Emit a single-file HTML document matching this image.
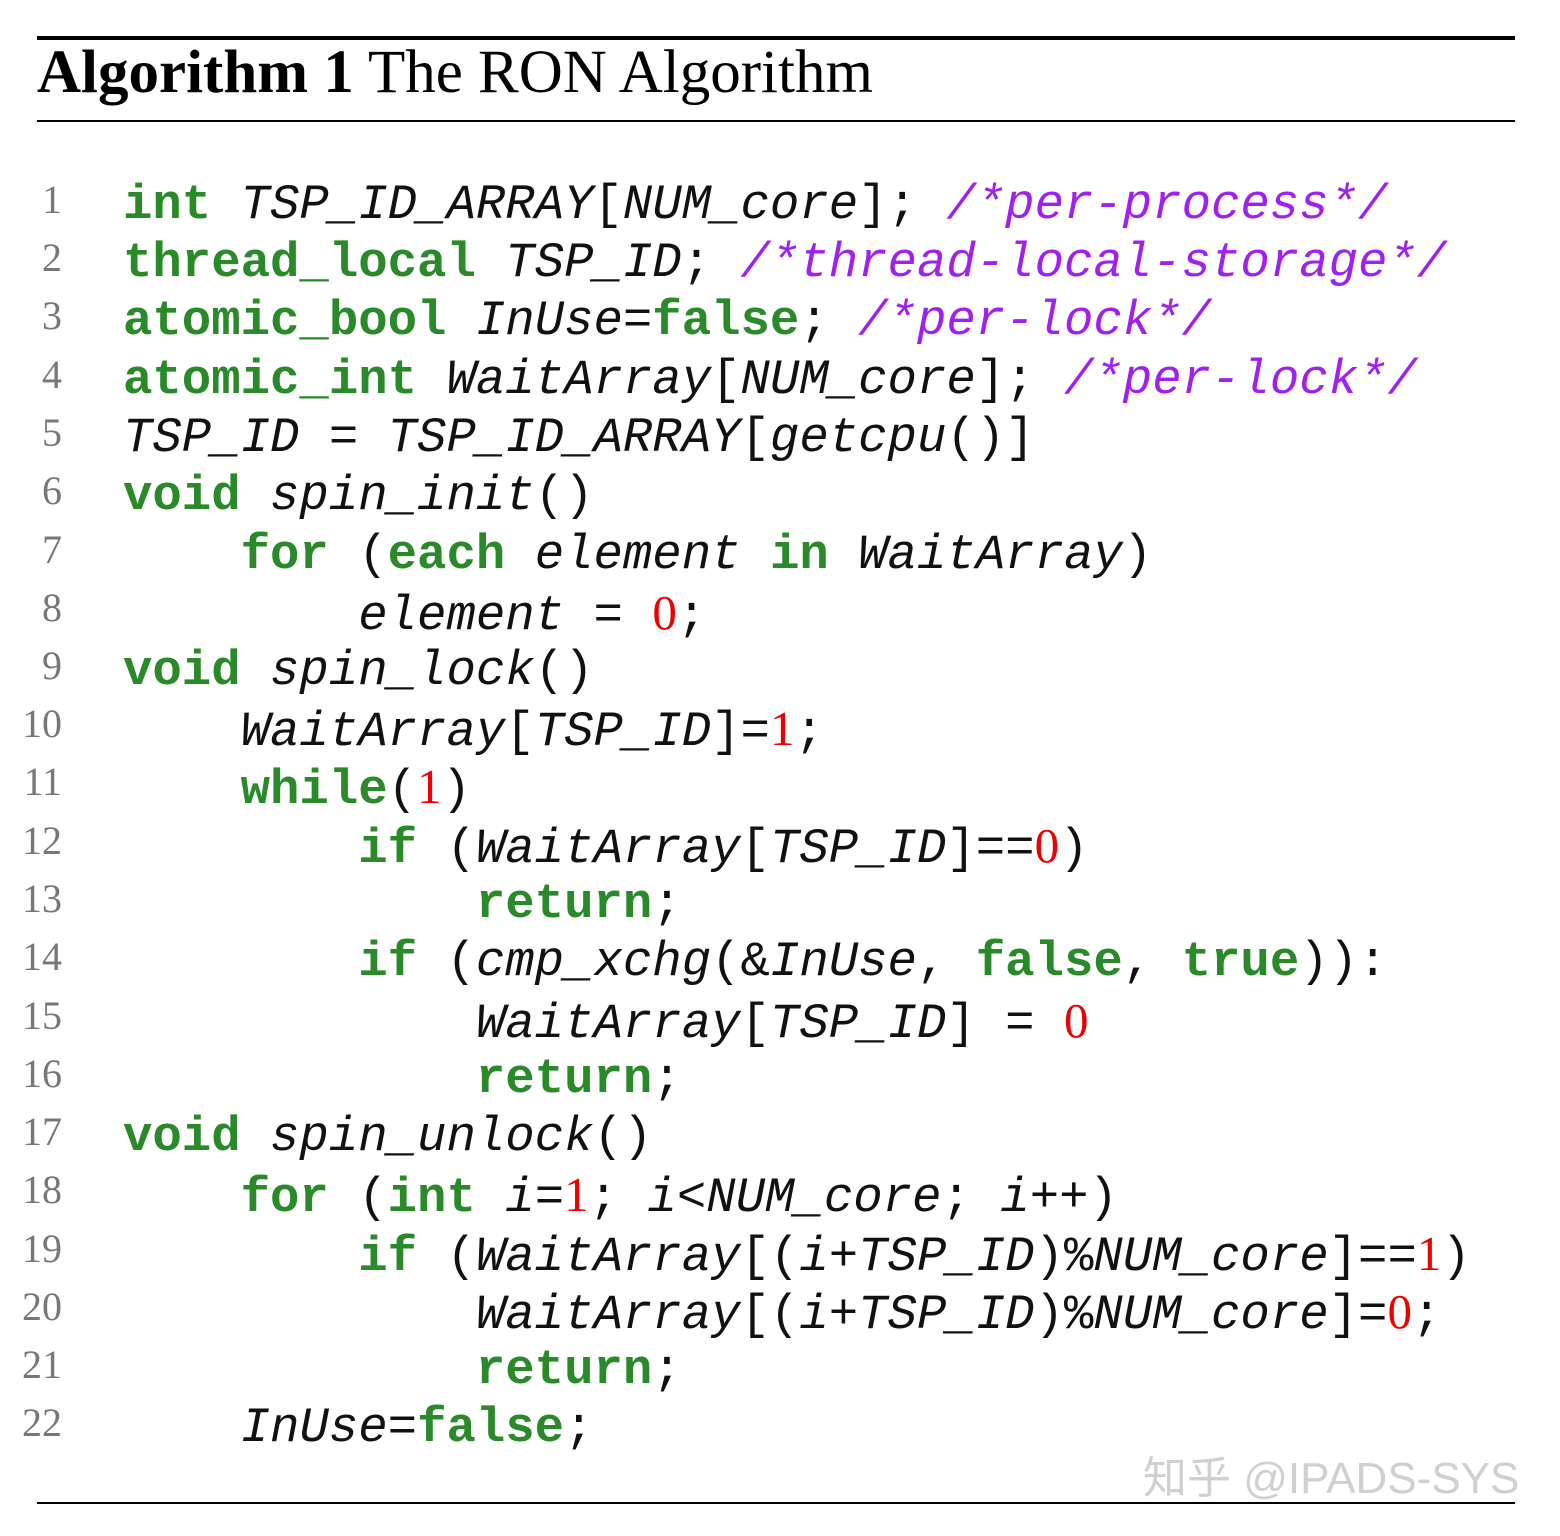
<!DOCTYPE html>
<html><head><meta charset="utf-8"><style>
body{margin:0;background:#fff;width:1560px;height:1536px;position:relative;overflow:hidden}
.r{position:absolute;left:37px;width:1478px;background:#000}
.t{position:absolute;left:37px;top:38px;font:61px "Liberation Serif",serif;color:#000;white-space:pre}
.n{position:absolute;left:0;width:62px;text-align:right;font:40px "Liberation Serif",serif;color:#777;height:58px;line-height:58px}
.c{position:absolute;left:123px;font:49px "Liberation Mono",monospace;white-space:pre;height:58px;line-height:58px;color:#111;margin-top:5px}
.k{color:#2a8a2a;font-weight:bold}
.i{font-style:italic}
.m{color:#a020f0;font-style:italic}
.d{color:#e00;font-family:"Liberation Serif",serif}
.w{position:absolute;left:1143px;top:1442px;font:44px "Liberation Sans","Noto Sans CJK SC",sans-serif;color:#d0d0d0;white-space:pre}
</style></head><body>
<div class="r" style="top:36px;height:4px"></div>
<div class="t"><b>Algorithm 1</b> The RON Algorithm</div>
<div class="r" style="top:120px;height:2px"></div>
<div class="r" style="top:1502px;height:2px"></div>

<div class="n" style="top:171px">1</div><div class="c" style="top:171px"><span class="k">int</span> <span class="i">TSP_ID_ARRAY</span>[<span class="i">NUM_core</span>]; <span class="m">/*per-process*/</span></div>
<div class="n" style="top:229px">2</div><div class="c" style="top:229px"><span class="k">thread_local</span> <span class="i">TSP_ID</span>; <span class="m">/*thread-local-storage*/</span></div>
<div class="n" style="top:287px">3</div><div class="c" style="top:287px"><span class="k">atomic_bool</span> <span class="i">InUse</span>=<span class="k">false</span>; <span class="m">/*per-lock*/</span></div>
<div class="n" style="top:346px">4</div><div class="c" style="top:346px"><span class="k">atomic_int</span> <span class="i">WaitArray</span>[<span class="i">NUM_core</span>]; <span class="m">/*per-lock*/</span></div>
<div class="n" style="top:404px">5</div><div class="c" style="top:404px"><span class="i">TSP_ID</span> = <span class="i">TSP_ID_ARRAY</span>[<span class="i">getcpu</span>()]</div>
<div class="n" style="top:462px">6</div><div class="c" style="top:462px"><span class="k">void</span> <span class="i">spin_init</span>()</div>
<div class="n" style="top:521px">7</div><div class="c" style="top:521px">    <span class="k">for</span> (<span class="k">each</span> <span class="i">element</span> <span class="k">in</span> <span class="i">WaitArray</span>)</div>
<div class="n" style="top:579px">8</div><div class="c" style="top:579px">        <span class="i">element</span> = <span class="d">0</span>;</div>
<div class="n" style="top:637px">9</div><div class="c" style="top:637px"><span class="k">void</span> <span class="i">spin_lock</span>()</div>
<div class="n" style="top:695px">10</div><div class="c" style="top:695px">    <span class="i">WaitArray</span>[<span class="i">TSP_ID</span>]=<span class="d">1</span>;</div>
<div class="n" style="top:753px">11</div><div class="c" style="top:753px">    <span class="k">while</span>(<span class="d">1</span>)</div>
<div class="n" style="top:812px">12</div><div class="c" style="top:812px">        <span class="k">if</span> (<span class="i">WaitArray</span>[<span class="i">TSP_ID</span>]==<span class="d">0</span>)</div>
<div class="n" style="top:870px">13</div><div class="c" style="top:870px">            <span class="k">return</span>;</div>
<div class="n" style="top:928px">14</div><div class="c" style="top:928px">        <span class="k">if</span> (<span class="i">cmp_xchg</span>(&amp;<span class="i">InUse</span>, <span class="k">false</span>, <span class="k">true</span>)):</div>
<div class="n" style="top:987px">15</div><div class="c" style="top:987px">            <span class="i">WaitArray</span>[<span class="i">TSP_ID</span>] = <span class="d">0</span></div>
<div class="n" style="top:1045px">16</div><div class="c" style="top:1045px">            <span class="k">return</span>;</div>
<div class="n" style="top:1103px">17</div><div class="c" style="top:1103px"><span class="k">void</span> <span class="i">spin_unlock</span>()</div>
<div class="n" style="top:1161px">18</div><div class="c" style="top:1161px">    <span class="k">for</span> (<span class="k">int</span> <span class="i">i</span>=<span class="d">1</span>; <span class="i">i</span>&lt;<span class="i">NUM_core</span>; <span class="i">i</span>++)</div>
<div class="n" style="top:1220px">19</div><div class="c" style="top:1220px">        <span class="k">if</span> (<span class="i">WaitArray</span>[(<span class="i">i</span>+<span class="i">TSP_ID</span>)%<span class="i">NUM_core</span>]==<span class="d">1</span>)</div>
<div class="n" style="top:1278px">20</div><div class="c" style="top:1278px">            <span class="i">WaitArray</span>[(<span class="i">i</span>+<span class="i">TSP_ID</span>)%<span class="i">NUM_core</span>]=<span class="d">0</span>;</div>
<div class="n" style="top:1336px">21</div><div class="c" style="top:1336px">            <span class="k">return</span>;</div>
<div class="n" style="top:1394px">22</div><div class="c" style="top:1394px">    <span class="i">InUse</span>=<span class="k">false</span>;</div>

<div class="w">知乎 @IPADS-SYS</div>
</body></html>
